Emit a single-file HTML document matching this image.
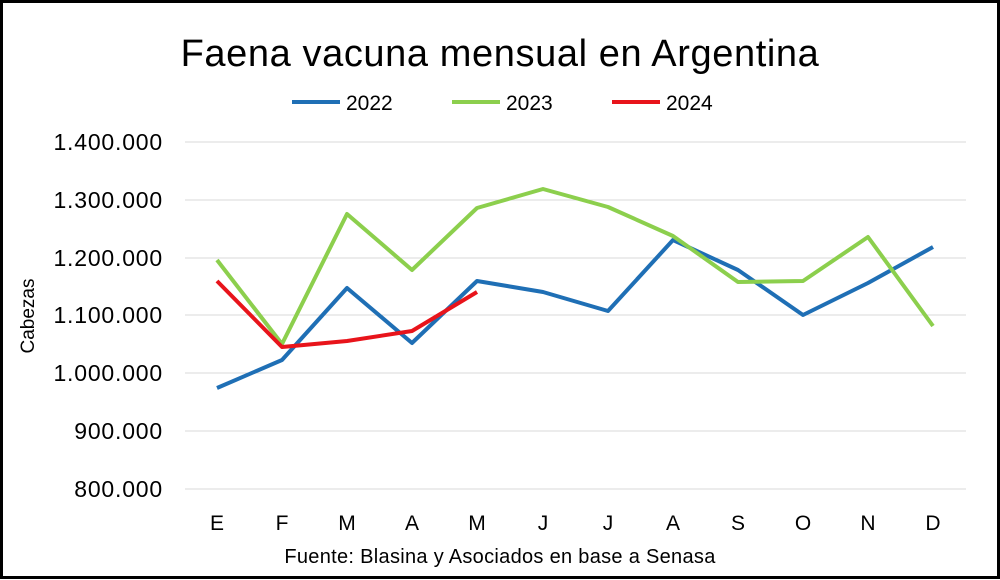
<!DOCTYPE html>
<html><head><meta charset="utf-8"><style>
html,body{margin:0;padding:0;background:#fff}
svg{display:block}
text{font-family:"Liberation Sans",sans-serif;fill:#000}
</style></head><body>
<svg width="1000" height="580" viewBox="0 0 1000 580" xmlns="http://www.w3.org/2000/svg">
<rect x="1.5" y="1.5" width="997" height="576" fill="#fff" stroke="#000" stroke-width="3"/>
<text x="500" y="66" font-size="38" text-anchor="middle" letter-spacing="0.6">Faena vacuna mensual en Argentina</text>
<g font-size="21">
<line x1="292" y1="102" x2="340" y2="102" stroke="#1f6fb5" stroke-width="4"/><text x="346" y="110">2022</text>
<line x1="452" y1="102" x2="500" y2="102" stroke="#8ccf4d" stroke-width="4"/><text x="506" y="110">2023</text>
<line x1="612" y1="102" x2="660" y2="102" stroke="#e8141b" stroke-width="4"/><text x="666" y="110">2024</text>
</g>
<g stroke="#d9d9d9" stroke-width="1">
<line x1="185" x2="966" y1="142" y2="142"/><line x1="185" x2="966" y1="200" y2="200"/>
<line x1="185" x2="966" y1="258" y2="258"/><line x1="185" x2="966" y1="315" y2="315"/>
<line x1="185" x2="966" y1="373" y2="373"/><line x1="185" x2="966" y1="431" y2="431"/>
<line x1="185" x2="966" y1="489" y2="489"/>
</g>
<g font-size="23" text-anchor="end" letter-spacing="0.8">
<text x="163" y="150">1.400.000</text><text x="163" y="208">1.300.000</text>
<text x="163" y="266">1.200.000</text><text x="163" y="323">1.100.000</text>
<text x="163" y="381">1.000.000</text><text x="163" y="439">900.000</text>
<text x="163" y="497">800.000</text>
</g>
<text transform="translate(34,316) rotate(-90)" font-size="19" text-anchor="middle">Cabezas</text>
<g font-size="21" text-anchor="middle">
<text x="217" y="530">E</text><text x="282" y="530">F</text><text x="347" y="530">M</text>
<text x="412" y="530">A</text><text x="477" y="530">M</text><text x="543" y="530">J</text>
<text x="608" y="530">J</text><text x="673" y="530">A</text><text x="738" y="530">S</text>
<text x="803" y="530">O</text><text x="868" y="530">N</text><text x="933" y="530">D</text>
</g>
<text x="500" y="563" font-size="20" text-anchor="middle" letter-spacing="0.3">Fuente: Blasina y Asociados en base a Senasa</text>
<g fill="none" stroke-width="4" stroke-linejoin="round">
<polyline stroke="#1f6fb5" points="217,388 282,360 347,288 412,343 477,281 543,292 608,311 673,240 738,270 803,315 868,283 933,247"/>
<polyline stroke="#8ccf4d" points="217,260 282,344 347,214 412,270 477,208 543,189 608,207 673,236 738,282 803,281 868,237 933,326"/>
<polyline stroke="#e8141b" points="217,281 282,347 347,341 412,331 477,292"/>
</g>
</svg>
</body></html>
